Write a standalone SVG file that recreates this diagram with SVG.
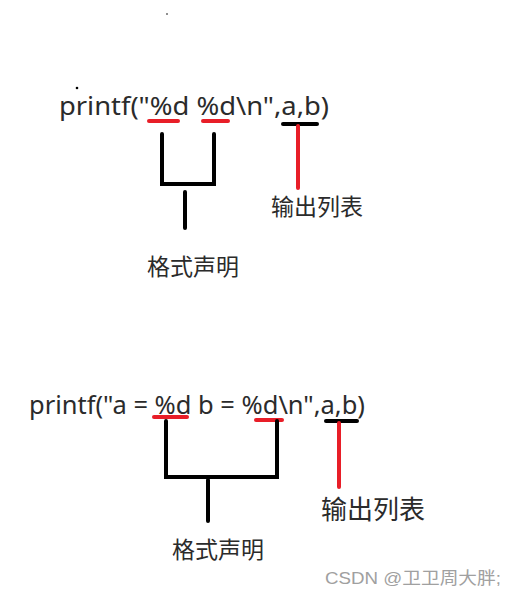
<svg xmlns="http://www.w3.org/2000/svg" width="516" height="596" viewBox="0 0 516 596">
<style>
.code{font-family:"Noto Sans","Open Sans","Liberation Sans",sans-serif;fill:#2b2b2b}
.cjk{font-family:"Noto Sans CJK SC","Noto Sans",sans-serif;fill:#2b2b2b}
.blk{stroke:#000;stroke-width:4;fill:none;stroke-linecap:round;stroke-linejoin:miter}
.red{stroke:#e81e28;stroke-width:4;fill:none;stroke-linecap:round}
.wm{font-family:"Liberation Sans","Noto Sans CJK SC",sans-serif;fill:#a0a0a0;font-size:17px}
</style>
<rect width="516" height="596" fill="#fff"/>
<circle cx="167" cy="14" r="0.8" fill="#000"/>
<circle cx="77" cy="88" r="1.3" fill="#000"/>
<g id="example1">
<text class="code" x="59" y="115" font-size="25" textLength="270" lengthAdjust="spacingAndGlyphs">printf("%d %d\n",a,b)</text>
</g>
<g id="example2">
<text class="code" x="29" y="414" font-size="26" textLength="336" lengthAdjust="spacingAndGlyphs">printf("a = %d b = %d\n",a,b)</text>
</g>
<g id="label-output1"><text class="cjk" x="271" y="215" font-size="23">输出列表</text></g>
<g id="label-format1"><text class="cjk" x="147" y="275" font-size="23">格式声明</text></g>
<g id="label-output2"><text class="cjk" x="321" y="519" font-size="26">输出列表</text></g>
<g id="label-format2"><text class="cjk" x="172" y="558" font-size="23">格式声明</text></g>
<g id="connectors">
<line class="red" x1="149" y1="121" x2="178" y2="121"/>
<line class="red" x1="203" y1="121" x2="228" y2="121"/>
<line class="blk" x1="283" y1="124" x2="317" y2="124"/>
<line class="red" x1="298" y1="126" x2="298" y2="188"/>
<path class="blk" d="M162 134 V184 H214 V134"/>
<line class="blk" x1="185" y1="192" x2="185" y2="228"/>
<line class="red" x1="154" y1="417" x2="187" y2="417"/>
<line class="red" x1="256" y1="420" x2="282" y2="420"/>
<line class="blk" x1="326" y1="421" x2="357" y2="421"/>
<line class="red" x1="339" y1="423" x2="339" y2="487"/>
<path class="blk" d="M166 421 V477 H277 V421"/>
<line class="blk" x1="208" y1="480" x2="208" y2="521"/>
</g>
<text class="wm" x="325" y="584" textLength="176" lengthAdjust="spacingAndGlyphs">CSDN @卫卫周大胖;</text>
</svg>
